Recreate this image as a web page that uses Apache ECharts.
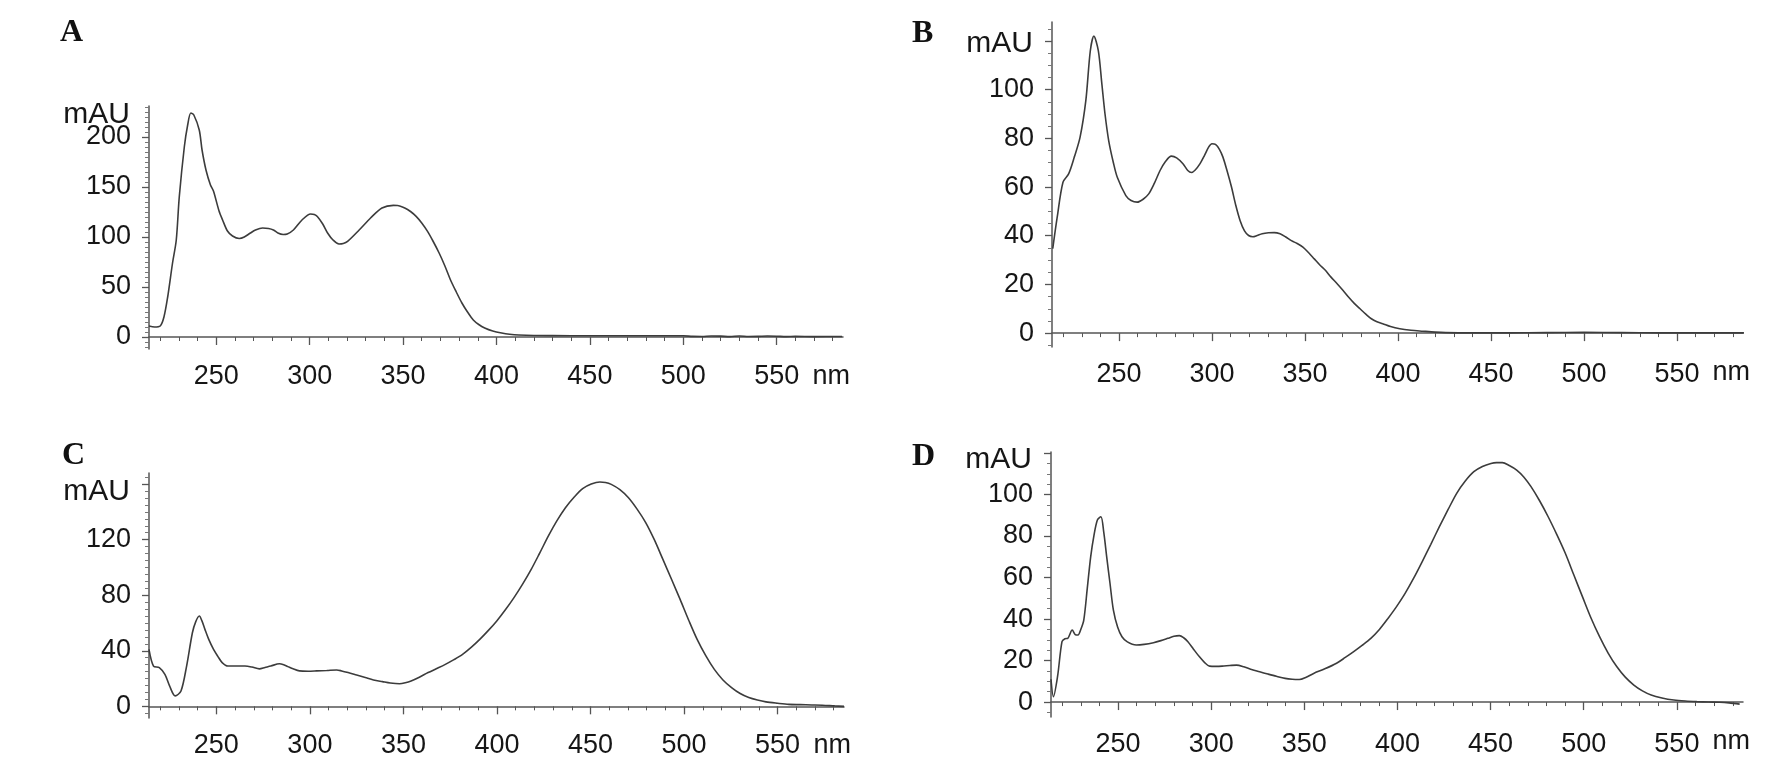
<!DOCTYPE html>
<html>
<head>
<meta charset="utf-8">
<title>UV-Vis spectra A-D</title>
<script src="https://cdn.jsdelivr.net/npm/echarts@6/dist/echarts.min.js"></script>
<style>
  html, body { margin: 0; padding: 0; background: #ffffff; }
  #main { width: 1792px; height: 766px; }
</style>
</head>
<body>
<div id="main"></div>
<script>
// spectra: wavelength (nm) / absorbance (mAU)
const nmA = [214, 217, 220, 222, 224, 226.6, 228.6, 230.2, 232.9, 234.7, 236.4, 238, 240.9, 242.4, 244.5, 246.9, 248.5, 251.5, 253.4, 256, 258.7, 262.3, 265, 268.3, 271, 274.8, 278, 280.6, 283, 285.8, 288, 291.3, 295.9, 300.5, 302.5, 304.1, 307, 309.6, 312.5, 315.7, 318, 320.3, 326.5, 332.6, 338.7, 344.8, 347, 350.9, 354, 357, 360, 363.1, 366, 369.3, 372.4, 375.4, 378.5, 381.5, 384.5, 387.6, 390.5, 393.7, 398, 402.8, 407, 412, 420, 440, 460, 480, 500, 505, 510, 515, 520, 525, 530, 535, 540, 545, 550, 555, 560, 570, 585]
const mauA = [11, 10, 11, 20, 40, 74, 97, 140, 190, 212, 224, 222, 207, 187, 167, 152, 146, 126, 117, 106, 101, 98.5, 100, 104, 107, 109, 108.5, 107, 104, 102.5, 103, 107, 117, 123, 122.5, 120.5, 113, 104, 97, 93, 93.5, 95.6, 107, 119, 129, 131.6, 131.5, 129, 125.5, 120.6, 114, 105.6, 96, 84, 71, 57, 45, 34, 25, 17, 12.5, 9, 6, 4, 2.8, 2, 1.5, 1.3, 1.3, 1.3, 1.2, 0.6, 0.5, 1.0, 0.9, 0.4, 1.0, 0.5, 0.6, 1.0, 0.8, 0.4, 0.6, 0.4, 0.5]

const nmB = [214.4, 216.8, 219.9, 223, 226, 229.1, 232.2, 234.6, 236.5, 238.9, 240.8, 242.5, 244.5, 247, 249.1, 253.7, 256.5, 259.8, 263, 266, 269, 272.1, 275, 278.2, 281, 284.4, 287, 289, 291, 293.6, 296, 298.2, 300, 301.9, 304, 305.9, 308, 310.5, 312.8, 315.1, 317.5, 319.7, 322, 324.3, 327, 330.4, 333.5, 336.6, 339.5, 342.7, 345.8, 348.9, 352, 355, 358, 361.1, 364, 367.3, 370.5, 373.4, 376.5, 379.6, 382.7, 385.7, 388.7, 391.8, 396, 401, 407, 413.3, 420, 425.6, 440, 460, 480, 500, 520, 540, 560, 586]
const mauB = [34.7, 47.6, 62, 65.5, 72.3, 80.5, 95.6, 116, 122, 116, 102.4, 90, 79, 70, 64, 56.5, 54.5, 53.8, 55, 57.2, 61.5, 66.8, 70.5, 72.7, 72, 69.6, 66.8, 66, 67, 69.6, 73, 76.4, 77.8, 77.5, 75.5, 72.3, 67, 60, 52.5, 46.3, 42, 40.1, 39.6, 40.1, 40.8, 41.2, 41.3, 40.8, 39.6, 38, 36.8, 35.3, 33, 30.5, 28, 25.7, 23, 20.3, 17.5, 14.8, 12.2, 10, 7.8, 5.9, 4.7, 3.9, 2.7, 1.8, 1.2, 0.8, 0.4, 0.2, 0.1, 0.1, 0.2, 0.3, 0.2, 0.1, 0.1, 0.1]

const nmC = [214, 216.4, 219.5, 222.5, 225, 228, 231.1, 234.1, 237.2, 239, 240.9, 242.3, 243.9, 246, 248.5, 250.8, 253.1, 256.2, 260, 265.3, 269, 273, 276, 279.1, 283.7, 286, 288.3, 291, 294.4, 299, 303.6, 309, 314.3, 317, 320.4, 325, 329.6, 334, 338.8, 343, 347.9, 351, 354.1, 358.5, 363.2, 367.8, 372.4, 377, 381.6, 386.2, 390.8, 395.3, 399.9, 404.5, 409.1, 413.7, 418.3, 422.9, 427.5, 432, 436.6, 441.2, 445.8, 450.4, 455, 458, 461.1, 465.7, 470.3, 474.9, 479.5, 484.1, 488.7, 493.3, 497.9, 502.5, 507, 511.6, 516.2, 520.8, 525.4, 530, 534.6, 539.2, 543.8, 550, 556, 562, 568.3, 574, 580.5, 585.5]
const mauC = [41, 29, 27.9, 23, 14.7, 7.5, 11, 29, 53, 61, 65, 61.5, 55.4, 48, 41, 36, 31.5, 29, 29, 29, 28.3, 27, 28, 29, 30.7, 30, 28.6, 27, 25.5, 25.3, 25.5, 25.8, 26.2, 25.5, 24.3, 22.5, 20.7, 19, 17.8, 16.8, 16.3, 17, 18.3, 21, 24.3, 27.2, 30.2, 33.6, 37.4, 42.4, 48.2, 54.5, 61.5, 69.5, 78.3, 88, 98.6, 110.5, 122.7, 133.5, 143, 150.5, 156.7, 160, 161.5, 161.2, 159.8, 156, 150.2, 142, 132.3, 120, 105.8, 91.5, 77, 62, 48.2, 36.5, 26.6, 19, 13.5, 9.2, 6.3, 4.5, 3.2, 2.2, 1.4, 1.2, 1, 0.8, 0.3, 0]

const nmD = [214, 215.3, 217.5, 219.9, 221.5, 223, 225.4, 227, 228.5, 230, 231.6, 233.5, 235.3, 237, 238.9, 240.8, 242.3, 243.9, 245.7, 247.5, 249.8, 252.1, 255, 259.8, 264, 269, 273, 276.7, 280, 282.9, 285.2, 287.5, 290.5, 293.6, 296.5, 299.1, 302.5, 305.9, 310, 313.6, 317.5, 321.2, 326, 330.4, 335, 339.7, 343.5, 347.3, 351, 355, 361, 367.3, 372, 376.5, 381, 385.7, 390.3, 394.9, 399.5, 404.1, 408.7, 413.3, 417.9, 422.5, 427.2, 431.8, 436.4, 441, 445.6, 450.2, 453.2, 456.3, 460, 464, 467.8, 471.7, 476.3, 480.9, 485.5, 490.1, 494.7, 499.3, 503.9, 508.5, 513.1, 517.7, 522.3, 526.9, 531.5, 536.2, 542, 548.4, 554.5, 560.7, 567, 573, 578, 583.7]
const mauD = [11, 2.6, 12.2, 29.1, 30.5, 30.7, 34.7, 32.5, 32.3, 35, 39.5, 55, 70, 80, 87.7, 89.3, 82, 70, 57, 44.3, 36, 31.5, 29, 27.5, 27.8, 28.6, 29.6, 30.7, 31.7, 32, 31, 29.1, 25.5, 21.9, 19, 17.3, 17.2, 17.3, 17.6, 17.8, 17, 15.8, 14.6, 13.5, 12.4, 11.4, 11, 10.9, 12, 13.8, 16, 18.7, 21.5, 24.3, 27.3, 30.7, 35, 40.3, 46, 52.4, 59.7, 67.7, 76, 84.5, 92.8, 100.6, 106.5, 111, 113.5, 115, 115.4, 115.4, 114, 111.8, 108.5, 103.8, 97, 89.3, 80.8, 71.7, 61.2, 50.8, 40.5, 31.5, 23.6, 17.1, 12, 8.2, 5.4, 3.4, 2, 1, 0.5, 0.2, 0, -0.1, -0.4, -1]

// tick positions
const xMajor = [250, 300, 350, 400, 450, 500, 550]
const xMinor = [220, 230, 240, 260, 270, 280, 290, 310, 320, 330, 340, 360, 370, 380, 390, 410, 420, 430, 440, 460, 470, 480, 490, 510, 520, 530, 540, 560, 570, 580]
const yLabelsA = [0, 50, 100, 150, 200]
const yLabelsB = [0, 20, 40, 60, 80, 100]
const yLabelsC = [0, 40, 80, 120]
const yLabelsD = [0, 20, 40, 60, 80, 100]
const yTicksA = [0, 50, 100, 150, 200]
const yTicksB = [0, 20, 40, 60, 80, 100, 120]
const yTicksC = [0, 40, 80, 120, 160]
const yTicksD = [0, 20, 40, 60, 80, 100, 120]

const axisColor = '#555'
const textColor = '#161616'
const sans = 'Liberation Sans, Arial, sans-serif'

// minor tick marks between the labelled ones
function minorTicks (from, to, step, major) {
  const out = []
  for (let v = from; v <= to; v += step) {
    if (major.indexOf(v) < 0) out.push(v)
  }
  return out
}

const panels = [
  { letter: 'A', nm: nmA, mau: mauA, yLabels: yLabelsA, yTicks: yTicksA, yMinor: minorTicks(-10, 230, 5, yTicksA),
    yMin: -12, yMax: 231, left: 149, top: 106, width: 694, height: 243, letterAt: [60, 17], nameGap: -9 },
  { letter: 'B', nm: nmB, mau: mauB, yLabels: yLabelsB, yTicks: yTicksB, yMinor: minorTicks(-5, 125, 5, yTicksB),
    yMin: -5.7, yMax: 127.8, left: 1052, top: 22, width: 691, height: 325, letterAt: [912, 18], nameGap: -22 },
  { letter: 'C', nm: nmC, mau: mauC, yLabels: yLabelsC, yTicks: yTicksC, yMinor: minorTicks(-5, 165, 5, yTicksC),
    yMin: -8.4, yMax: 168, left: 149, top: 473, width: 695, height: 245, letterAt: [62, 440], nameGap: -19 },
  { letter: 'D', nm: nmD, mau: mauD, yLabels: yLabelsD, yTicks: yTicksD, yMinor: minorTicks(-5, 120, 5, yTicksD),
    yMin: -7.2, yMax: 120.5, left: 1051, top: 452, width: 692, height: 265, letterAt: [912, 441], nameGap: -8 }
]

const grid = []
const xAxis = []
const yAxis = []
const series = []
const title = []

panels.forEach(function (p, i) {
  grid.push({ left: p.left, top: p.top, width: p.width, height: p.height })
  title.push({
    text: p.letter,
    left: p.letterAt[0],
    top: p.letterAt[1],
    padding: 0,
    textStyle: { fontFamily: 'Liberation Serif, Times New Roman, serif', fontWeight: 'bold', fontSize: 32, color: '#111' }
  })
  // labelled axis
  xAxis.push({
    type: 'value',
    gridIndex: i,
    position: 'bottom',
    min: 214,
    max: 585.5,
    splitLine: { show: false },
    axisLine: { lineStyle: { color: axisColor, width: 1.5 } },
    axisTick: { customValues: xMajor, length: 8, lineStyle: { color: axisColor, width: 1.3 } },
    axisLabel: { customValues: xMajor, margin: 14, fontSize: 27, fontFamily: sans, color: textColor },
    name: 'nm',
    nameLocation: 'end',
    nameGap: 7,
    nameMoveOverlap: false,
    nameTextStyle: { align: 'right', verticalAlign: 'top', padding: [26, 0, 0, 0], fontSize: 27, fontFamily: sans, color: textColor }
  })
  // small ticks every 10 nm
  xAxis.push({
    type: 'value',
    gridIndex: i,
    position: 'bottom',
    min: 214,
    max: 585.5,
    splitLine: { show: false },
    axisLine: { show: false },
    axisTick: { customValues: xMinor, length: 4, lineStyle: { color: axisColor, width: 1 } },
    axisLabel: { show: false }
  })
  yAxis.push({
    type: 'value',
    gridIndex: i,
    position: 'left',
    min: p.yMin,
    max: p.yMax,
    splitLine: { show: false },
    axisLine: { show: true, lineStyle: { color: axisColor, width: 1.5 } },
    axisTick: { show: true, customValues: p.yTicks, length: 7, lineStyle: { color: axisColor, width: 1.3 } },
    axisLabel: { customValues: p.yLabels, margin: 18, fontSize: 27, fontFamily: sans, color: textColor },
    name: 'mAU',
    nameLocation: 'end',
    nameGap: p.nameGap,
    nameMoveOverlap: false,
    nameTextStyle: { align: 'right', verticalAlign: 'middle', padding: [0, 19, 0, 0], fontSize: 30, fontFamily: sans, color: textColor }
  })
  // small ticks every 5 mAU
  yAxis.push({
    type: 'value',
    gridIndex: i,
    position: 'left',
    min: p.yMin,
    max: p.yMax,
    splitLine: { show: false },
    axisLine: { show: false },
    axisTick: { show: true, customValues: p.yMinor, length: 4, lineStyle: { color: '#777', width: 1 } },
    axisLabel: { show: false }
  })
  series.push({
    type: 'line',
    xAxisIndex: i * 2,
    yAxisIndex: i * 2,
    data: p.nm.map(function (x, k) { return [x, p.mau[k]] }),
    showSymbol: false,
    smooth: 0.3,
    lineStyle: { color: '#3c3c3c', width: 1.6 }
  })
})

const myChart = echarts.init(document.getElementById('main'))
myChart.setOption({
  animation: false,
  backgroundColor: '#ffffff',
  title: title,
  grid: grid,
  xAxis: xAxis,
  yAxis: yAxis,
  series: series
})
</script>
</body>
</html>
